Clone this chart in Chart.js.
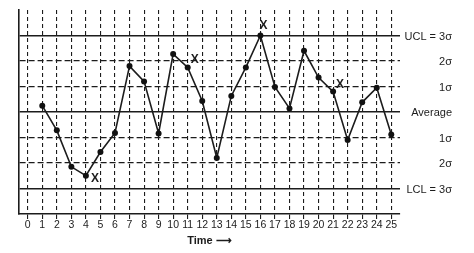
<!DOCTYPE html>
<html>
<head>
<meta charset="utf-8">
<script src="https://cdn.jsdelivr.net/npm/chart.js@4.4.0/dist/chart.umd.min.js"></script>
<style>
  html, body { margin: 0; padding: 0; background: #fff; }
  #wrap { width: 474px; height: 253px; }
</style>
</head>
<body>
<div id="wrap"><canvas id="controlChart"></canvas></div>
<script>
// data
const timeTicks = [0, 1, 2, 3, 4, 5, 6, 7, 8, 9, 10, 11, 12, 13, 14, 15, 16, 17, 18, 19, 20, 21, 22, 23, 24, 25];
const samples = [1, 2, 3, 4, 5, 6, 7, 8, 9, 10, 11, 12, 13, 14, 15, 16, 17, 18, 19, 20, 21, 22, 23, 24, 25];
const values = [0.25, -0.72, -2.15, -2.5, -1.57, -0.82, 1.8, 1.2, -0.84, 2.27, 1.75, 0.43, -1.8, 0.63, 1.75, 3.0, 0.98, 0.14, 2.4, 1.35, 0.8, -1.1, 0.38, 0.95, -0.88];
const sigmaLevels = [3, 2, 1, 0, -1, -2, -3];
const sigmaLabels = ['UCL = 3σ', '2σ', '1σ', 'Average', '1σ', '2σ', 'LCL = 3σ'];
const flagged = [4, 11, 16, 21]; // samples marked with X

const ink = '#1c1c1c';
const font = '"Liberation Sans", Arial, sans-serif';

// where the "X" sits relative to its point
const flagOffset = { 4: [9, 3], 11: [7, -8], 16: [3, -10], 21: [7, -7] };

const labelsPlugin = {
  id: 'sigmaText',
  afterDraw(chart) {
    const ctx = chart.ctx;
    const y = chart.scales.y;
    ctx.save();
    ctx.fillStyle = ink;
    ctx.font = '11px ' + font;
    ctx.textAlign = 'right';
    ctx.textBaseline = 'middle';
    sigmaLevels.forEach((lv, i) => {
      ctx.fillText(sigmaLabels[i], 452, y.getPixelForValue(lv) + 1);
    });

    // X marks for out-of-pattern samples
    const pts = chart.getDatasetMeta(0).data;
    ctx.font = 'bold 12px ' + font;
    ctx.textAlign = 'center';
    for (const s of flagged) {
      const p = pts[samples.indexOf(s)];
      const off = flagOffset[s] || [6, -6];
      ctx.fillText('X', p.x + off[0], p.y + off[1]);
    }
    ctx.restore();
  }
};

new Chart(document.getElementById('controlChart'), {
  type: 'line',
  data: {
    datasets: [{
      data: samples.map((s, i) => ({ x: s, y: values[i] })),
      borderColor: ink,
      borderWidth: 1.6,
      pointRadius: 3,
      pointBackgroundColor: '#111',
      pointBorderColor: '#111',
      pointBorderWidth: 0,
      tension: 0
    }]
  },
  options: {
    responsive: true,
    maintainAspectRatio: false,
    animation: false,
    layout: { padding: { left: 19, right: 74, top: 10, bottom: 0 } },
    plugins: { legend: { display: false }, tooltip: { enabled: false } },
    scales: {
      x: {
        type: 'linear',
        min: -0.6,
        max: 25.6,
        afterBuildTicks: (scale) => { scale.ticks = timeTicks.map(v => ({ value: v })); },
        afterFit: (scale) => { scale.height = 39; },
        ticks: {
          autoSkip: false,
          maxRotation: 0,
          padding: 0,
          color: ink,
          font: { family: font, size: 10.5 }
        },
        grid: { color: ink, lineWidth: 1.1, tickLength: 5 },
        border: { display: true, color: ink, width: 1.6, dash: [4, 3] },
        title: {
          display: true,
          text: 'Time ⟶',
          color: ink,
          padding: { top: 0, bottom: 5 },
          font: { family: font, size: 11, weight: 'bold' }
        }
      },
      y: {
        min: -4,
        max: 4,
        afterBuildTicks: (scale) => { scale.ticks = sigmaLevels.map(v => ({ value: v })); },
        afterFit: (scale) => { scale.width = 0; },
        ticks: { display: false },
        grid: {
          color: ink,
          lineWidth: (c) => (c.tick && Math.abs(c.tick.value) % 3 === 0 ? 1.5 : 1.3),
          drawTicks: false
        },
        border: {
          display: true,
          color: ink,
          width: 1.6,
          dash: (c) => (c.tick && Math.abs(c.tick.value) % 3 === 0 ? [] : [6, 3])
        }
      }
    }
  },
  plugins: [labelsPlugin]
});
</script>
</body>
</html>
